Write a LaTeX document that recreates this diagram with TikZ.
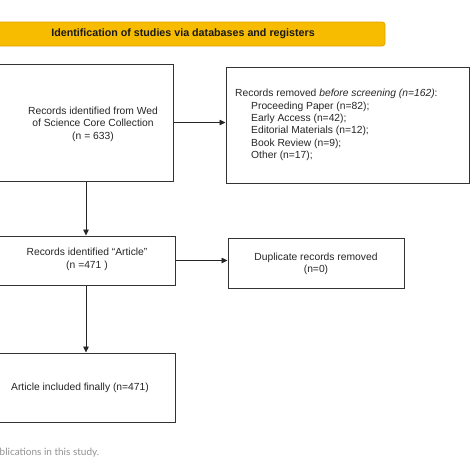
\documentclass[tikz,border=0pt]{standalone}
\usepackage{fontspec}
\setmainfont{Liberation Sans}
\newfontfamily\capfont{Lato}
\usetikzlibrary{arrows.meta}
\definecolor{banfill}{HTML}{F7BC00}
\definecolor{banedge}{HTML}{E3A200}
\definecolor{edge}{HTML}{333333}
\definecolor{capgray}{HTML}{929292}
\tikzset{
  box/.style={draw=edge, line width=1pt, fill=white, rectangle, inner sep=0pt},
  txt/.style={inner sep=0pt, align=center, font=\fontsize{10.3}{12.4}\selectfont, text=black!85},
  arr/.style={draw=black!85, line width=0.8pt, -{Triangle[length=6pt,width=5.5pt]}},
}
\begin{document}
\begin{tikzpicture}[x=1pt,y=-1pt]
\useasboundingbox (0,0) rectangle (474,474);
\fill[white] (0,0) rectangle (474,474);
% banner
\node[draw=banedge, fill=banfill, line width=0.8pt, rounded corners=3pt, minimum width=405pt, minimum height=24pt, inner sep=0pt] (ban) at (182.5,34) {};
\node[inner sep=0pt, font=\fontsize{10.7}{12}\selectfont\bfseries, text=black!90] (bant) at (183,34) {Identification of studies via databases and registers};
% boxes
\node[box, minimum width=190pt, minimum height=117pt] (b1) at (78,122.5) {};
\node[txt] (t1) at (93,124) {Records identified from Wed\\of Science Core Collection\\(n = 633)};
\node[box, minimum width=243pt, minimum height=116pt] (b2) at (347.5,125) {};
\node[txt, align=left, anchor=west] (t2) at (235,125) {Records removed \textit{before screening (n=162)}:\\
\hspace*{16pt}Proceeding Paper (n=82);\\
\hspace*{16pt}Early Access (n=42);\\
\hspace*{16pt}Editorial Materials (n=12);\\
\hspace*{16pt}Book Review (n=9);\\
\hspace*{16pt}Other (n=17);};
\node[box, minimum width=179pt, minimum height=49pt] (b3) at (86,260.5) {};
\node[txt] (t3) at (87,259.5) {Records identified ``Article''\\(n =471 )};
\node[box, minimum width=176pt, minimum height=50pt] (b4) at (316,263) {};
\node[txt] (t4) at (316,264) {Duplicate records removed\\(n=0)};
\node[box, minimum width=180pt, minimum height=69pt] (b5) at (85,387.5) {};
\node[txt] (t5) at (80,388) {Article included finally (n=471)};
% connectors
\draw[arr] (b1.east) -- (b1.east -| b2.west);
\draw[arr] (b1.south -| b3.north) -- (b3.north);
\draw[arr] (b3.east) -- (b3.east -| b4.west);
\draw[arr] (b3.south) -- (b3.south |- b5.north);
% caption
\node[inner sep=0pt, anchor=west, font=\capfont\fontsize{10}{12}\selectfont, text=capgray] (cap) at (-0.5,453) {blications in this study.};
\end{tikzpicture}
\end{document}
